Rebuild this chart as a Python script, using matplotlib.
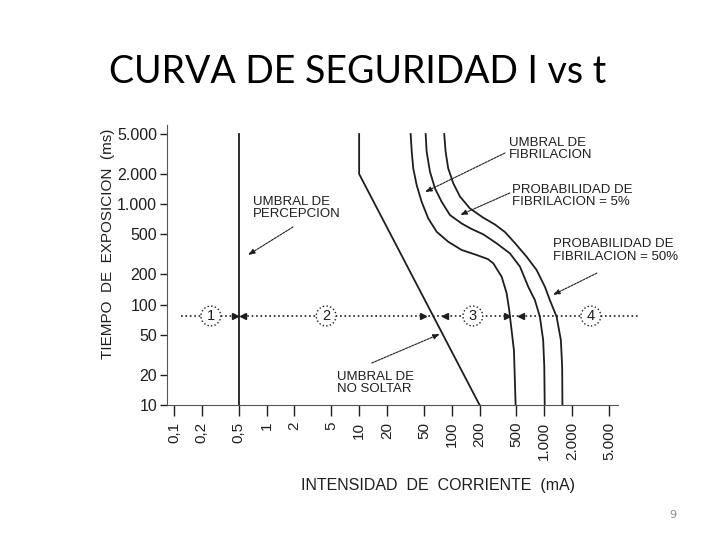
import matplotlib
matplotlib.use("Agg")
import matplotlib.pyplot as plt

# current (mA) / time (ms)
perception_x = [0.5, 0.5]
perception_y = [10, 5000]

nosoltar_x = [10, 10, 200]
nosoltar_y = [5000, 2000, 10]

fib_x = [36, 37, 38.4, 41.8, 47.3, 55.7, 68.7, 91.6, 128, 186, 246, 281, 346, 392, 418, 470, 482, 490]
fib_y = [5000, 3335, 2280, 1553, 1059, 724, 532, 423, 350, 312, 284, 258, 190, 130, 88, 35, 16.6, 10]

fib5_x = [52.3, 53.6, 58.2, 65.9, 77.8, 95.7, 128, 160, 220, 305, 425, 546, 670, 791, 896, 972, 1000, 1010]
fib5_y = [5000, 3335, 2108, 1439, 1059, 780, 643, 573, 500, 408, 324, 239, 151, 111, 75.7, 44.4, 24, 10]

fib50_x = [83, 85.9, 91.6, 104, 123, 157, 217, 293, 376, 470, 644, 826, 1014, 1148, 1358, 1510, 1560, 1570]
fib50_y = [5000, 3335, 2280, 1614, 1189, 910, 738, 628, 528, 421, 300, 221, 151, 111, 75.7, 44.4, 24, 10]

x_ticks = [0.1, 0.2, 0.5, 1, 2, 5, 10, 20, 50, 100, 200, 500, 1000, 2000, 5000]
x_labels = ["0,1", "0,2", "0,5", "1", "2", "5", "10", "20", "50", "100", "200",
            "500", "1.000", "2.000", "5.000"]
y_ticks = [10, 20, 50, 100, 200, 500, 1000, 2000, 5000]
y_labels = ["10", "20", "50", "100", "200", "500", "1.000", "2.000", "5.000"]

zone_t = 77
zone_labels = ["1", "2", "3", "4"]
zone_x = [0.25, 4.4, 169, 3185]

ink = "#1e1e1e"
scan_font = "Liberation Sans"

fig = plt.figure(figsize=(7.2, 5.4), dpi=100)
ax = fig.add_axes([0.2319, 0.25, 0.6264, 0.5185])
ax.set_xscale("log")
ax.set_yscale("log")
ax.set_xlim(0.084, 6250)
ax.set_ylim(10, 6150)

for xs, ys in [(perception_x, perception_y), (nosoltar_x, nosoltar_y),
               (fib_x, fib_y), (fib5_x, fib5_y), (fib50_x, fib50_y)]:
    ax.plot(xs, ys, color=ink, lw=1.3, solid_joinstyle="round")

# zones line
ax.plot([0.12, 10700], [zone_t, zone_t], color=ink, lw=1.2, ls=":", clip_on=False)
ax.plot([0.46, 49, 395], [zone_t] * 3, ls="none", marker=">", ms=4, color=ink)
ax.plot([0.55, 84.5, 558], [zone_t] * 3, ls="none", marker="<", ms=4, color=ink)
for lab, xv in zip(zone_labels, zone_x):
    ax.text(xv, zone_t, lab, ha="center", va="center", fontsize=10.5,
            family=scan_font, color=ink,
            bbox=dict(boxstyle="circle,pad=0.2", fc="white", ec=ink, ls=":", lw=1.0))

# annotations
notes = [
    ("UMBRAL DE\nPERCEPCION", (0.71, 1210), (1.93, 593), (0.63, 312)),
    ("UMBRAL DE\nNO SOLTAR", (5.75, 21.8), (13.7, 26.2), (74.6, 51)),
    ("UMBRAL DE\nFIBRILACION", (415, 4670), (376, 3236), (51.4, 1321)),
    ("PROBABILIDAD DE\nFIBRILACION = 5%", (447, 1589), (425, 1294), (123, 780)),
    ("PROBABILIDAD DE\nFIBRILACION = 50%", (1240, 460), (3700, 206), (1240, 125)),
]
for txt, tpos, tail, tip in notes:
    ax.text(tpos[0], tpos[1], txt, ha="left", va="top", fontsize=9.5,
            family=scan_font, color=ink, linespacing=1.05)
    ax.annotate("", xy=tip, xytext=tail,
                arrowprops=dict(arrowstyle="-|>,head_length=0.4,head_width=0.15",
                                color=ink, lw=0.8, ls=(0, (2, 1)), shrinkA=0, shrinkB=0))

ax.set_xticks(x_ticks)
ax.set_xticklabels(x_labels, rotation=90)
ax.set_yticks(y_ticks)
ax.set_yticklabels(y_labels)
ax.minorticks_off()
ax.tick_params(axis="x", length=8, width=1.0, direction="out", pad=4,
               labelsize=11, colors=ink)
ax.tick_params(axis="y", length=5, width=1.0, direction="out", pad=2,
               labelsize=11.5, colors=ink)
for lab in ax.get_xticklabels() + ax.get_yticklabels():
    lab.set_family(scan_font)

ax.spines["top"].set_visible(False)
ax.spines["right"].set_visible(False)
ax.spines["left"].set_color("#555555")
ax.spines["bottom"].set_color("#555555")

ax.set_xlabel("INTENSIDAD  DE  CORRIENTE  (mA)", fontsize=11.5, family=scan_font,
              color=ink)
ax.xaxis.set_label_coords(0.60, -0.26)
ax.set_ylabel("TIEMPO  DE  EXPOSICION  (ms)", fontsize=11, family=scan_font,
              color=ink)
ax.yaxis.set_label_coords(-0.115, 0.575)

fig.text(0.496, 0.866, "CURVA DE SEGURIDAD I vs t", ha="center", va="center",
         fontsize=27, family="Lato", color="black")
fig.text(0.935, 0.046, "9", ha="center", va="center", fontsize=8, color="#888888")

fig.savefig("out.png", dpi=100)
